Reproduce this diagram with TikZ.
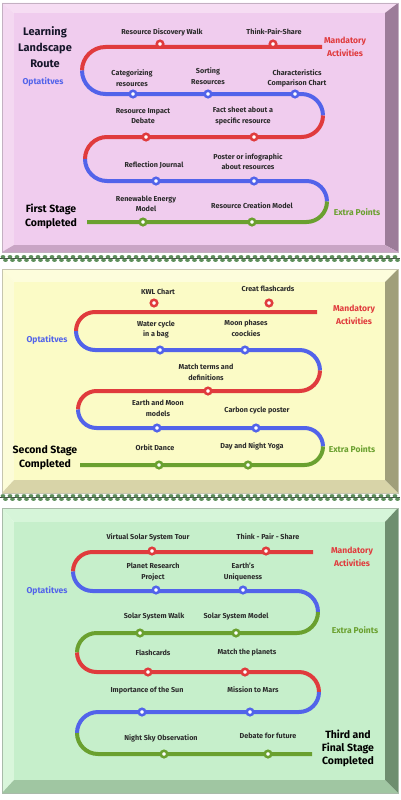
\documentclass[tikz,border=0pt]{standalone}
\usepackage{fontspec}
\setmainfont{Fira Sans}
\usepackage{xcolor}
\usetikzlibrary{positioning}

\definecolor{routered}{HTML}{E03B3D}
\definecolor{routeblue}{HTML}{5263EA}
\definecolor{routegreen}{HTML}{6AA02F}
\definecolor{lbltext}{HTML}{2B2B2B}
\definecolor{ttltext}{HTML}{16162A}
\definecolor{leafgreen}{HTML}{5E8F5C}
\definecolor{vinegray}{HTML}{3F4A3F}
% panel colours: face, top, left, right, bottom
\definecolor{faceA}{HTML}{F0CCEE}
\definecolor{topA}{HTML}{F6DDF3}
\definecolor{leftA}{HTML}{F4D8F1}
\definecolor{rightA}{HTML}{9C7C99}
\definecolor{bottomA}{HTML}{C9A5C5}
\definecolor{faceB}{HTML}{FBFBC6}
\definecolor{topB}{HTML}{FDFDDC}
\definecolor{leftB}{HTML}{FCFCD8}
\definecolor{rightB}{HTML}{A09F7A}
\definecolor{bottomB}{HTML}{D8D4A8}
\definecolor{faceC}{HTML}{C6EFCB}
\definecolor{topC}{HTML}{D6F5D9}
\definecolor{leftC}{HTML}{D9F6DB}
\definecolor{rightC}{HTML}{6E8E6F}
\definecolor{bottomC}{HTML}{A0C6A2}

\begin{document}
\begin{tikzpicture}[x=1pt,y=1pt,
  route/.style={line width=4pt},
  stop/.style={circle,draw=#1,line width=2.5pt,fill=white,minimum size=6.5pt,inner sep=0pt},
  lbl/.style={font=\fontsize{7.2}{10.5}\selectfont\bfseries,text=lbltext,align=center,inner sep=0pt},
  ttl/.style={font=\fontsize{11}{16}\selectfont\bfseries,text=ttltext,align=center,inner sep=0pt},
  done/.style={font=\fontsize{10.5}{14}\selectfont\bfseries,text=black,align=center,inner sep=0pt},
  tag/.style={font=\fontsize{8.5}{13}\selectfont\bfseries,text=#1,align=center,inner sep=0pt}]

\useasboundingbox (0,0) rectangle (400,-800);
\fill[white] (0,0) rectangle (400,-800);

% bevelled panels
\foreach \oy/\iy/\jy/\py/\k in {3/13/245/252/A, 269/282/480/493/B, 508/522/780/793/C}{
  \fill[top\k] (2,-\oy) -- (398,-\oy) -- (385,-\iy) -- (14,-\iy) -- cycle;
  \fill[left\k] (2,-\oy) -- (14,-\iy) -- (14,-\jy) -- (2,-\py) -- cycle;
  \fill[right\k] (398,-\oy) -- (398,-\py) -- (385,-\jy) -- (385,-\iy) -- cycle;
  \fill[bottom\k] (2,-\py) -- (398,-\py) -- (385,-\jy) -- (14,-\jy) -- cycle;
  \fill[face\k] (14,-\iy) rectangle (385,-\jy);
  \draw[right\k!60,line width=0.4pt] (2,-\oy) rectangle (398,-\py);
}

% leaf borders
\foreach \vy in {258.5,497.5}{
  \draw[vinegray,line width=0.5pt] (0,-\vy) -- (400,-\vy);
  \foreach \vx in {3,10,...,397}{
    \fill[leafgreen] (\vx,-\vy+1.7) ellipse[x radius=2.4,y radius=1.7];
    \fill[leafgreen] (\vx+2.5,-\vy-1.7) ellipse[x radius=2.4,y radius=1.7];
  }
}

%%% first stage
\draw[route,routered] (322,-47) -- (105.5,-47) arc[start angle=90,end angle=180,radius=23.5];
\draw[route,routeblue] (82,-70.5) arc[start angle=180,end angle=270,radius=23.5] -- (301.5,-94) arc[start angle=90,end angle=0,radius=21.5];
\draw[route,routered] (323,-115.5) arc[start angle=0,end angle=-90,radius=21.5] -- (107,-137) arc[start angle=90,end angle=180,radius=22];
\draw[route,routeblue] (85,-159) arc[start angle=180,end angle=270,radius=22] -- (306.5,-181) arc[start angle=90,end angle=0,radius=20.5];
\draw[route,routegreen] (327,-201.5) arc[start angle=0,end angle=-90,radius=20.5] -- (87,-222);

\node[stop=routered] (s1a) at (160,-44) {};
\node[stop=routered] (s1b) at (273,-44) {};
\node[stop=routeblue] (s1c) at (133,-94) {};
\node[stop=routeblue] (s1d) at (208,-94) {};
\node[stop=routeblue] (s1e) at (295,-94) {};
\node[stop=routered] (s1f) at (146,-137) {};
\node[stop=routered] (s1g) at (254,-137) {};
\node[stop=routeblue] (s1h) at (156,-181) {};
\node[stop=routeblue] (s1i) at (254,-181) {};
\node[stop=routegreen] (s1j) at (143,-222) {};
\node[stop=routegreen] (s1k) at (252,-222) {};

\node[lbl] (t1a) at (162,-32) {Resource Discovery Walk};
\node[lbl] (t1b) at (274,-32) {Think-Pair-Share};
\node[lbl] (t1c) at (132,-78) {Categorizing\\resources};
\node[lbl] (t1d) at (208,-76) {Sorting\\Resources};
\node[lbl] (t1e) at (297,-78.5) {Characteristics\\Comparison Chart};
\node[lbl] (t1f) at (143,-116) {Resource Impact\\Debate};
\node[lbl] (t1g) at (243,-116) {Fact sheet about a\\specific resource};
\node[lbl] (t1h) at (154,-165) {Reflection Journal};
\node[lbl] (t1i) at (248,-161.5) {Poster or infographic\\about resources};
\node[lbl] (t1j) at (146,-204) {Renewable Energy\\Model};
\node[lbl] (t1k) at (252,-206) {Resource Creation Model};

\node[ttl] (title) at (45,-47) {Learning\\Landscape\\Route};
\node[tag=routeblue] (opt1) at (43,-82) {Optatitves};
\node[tag=routered] (man1) at (345,-46.5) {Mandatory\\Activities};
\node[tag=routegreen] (ext1) at (357,-212) {Extra Points};
\node[done] (end1) at (51,-216) {First Stage\\Completed};

%%% second stage
\draw[route,routered] (317,-312) -- (95,-312) arc[start angle=90,end angle=180,radius=19];
\draw[route,routeblue] (76,-331) arc[start angle=180,end angle=270,radius=19] -- (299.5,-350) arc[start angle=90,end angle=0,radius=20.5];
\draw[route,routered] (320,-370.5) arc[start angle=0,end angle=-90,radius=20.5] -- (96.5,-391) arc[start angle=90,end angle=180,radius=18.5];
\draw[route,routeblue] (78,-409.5) arc[start angle=180,end angle=270,radius=18.5] -- (304.5,-428) arc[start angle=90,end angle=0,radius=18.5];
\draw[route,routegreen] (323,-446.5) arc[start angle=0,end angle=-90,radius=18.5] -- (80,-465);

\node[stop=routered] (s2a) at (154,-303) {};
\node[stop=routered] (s2b) at (269,-303) {};
\node[stop=routeblue] (s2c) at (160,-350) {};
\node[stop=routeblue] (s2d) at (245,-350) {};
\node[stop=routered] (s2e) at (208,-391) {};
\node[stop=routeblue] (s2f) at (157,-428) {};
\node[stop=routeblue] (s2g) at (256,-428) {};
\node[stop=routegreen] (s2h) at (159,-465) {};
\node[stop=routegreen] (s2i) at (248,-465) {};

\node[lbl] (t2a) at (158,-292) {KWL Chart};
\node[lbl] (t2b) at (268,-289) {Creat flashcards};
\node[lbl] (t2c) at (156,-329.5) {Water cycle\\in a bag};
\node[lbl] (t2d) at (246,-328.5) {Moon phases\\coockies};
\node[lbl] (t2e) at (206,-372.5) {Match terms and\\definitions};
\node[lbl] (t2f) at (158,-408.5) {Earth and Moon\\models};
\node[lbl] (t2g) at (257,-411) {Carbon cycle poster};
\node[lbl] (t2h) at (155,-448) {Orbit Dance};
\node[lbl] (t2i) at (252,-446) {Day and Night Yoga};

\node[tag=routered] (man2) at (354,-315) {Mandatory\\Activities};
\node[tag=routeblue] (opt2) at (47,-340) {Optatitves};
\node[tag=routegreen] (ext2) at (352,-449) {Extra Points};
\node[done] (end2) at (45,-458) {Second Stage\\Completed};

%%% third stage
\draw[route,routered] (313,-552) -- (92.5,-552) arc[start angle=90,end angle=180,radius=19.5];
\draw[route,routeblue] (73,-571.5) arc[start angle=180,end angle=270,radius=19.5] -- (297,-591) arc[start angle=90,end angle=0,radius=21];
\draw[route,routegreen] (318,-612) arc[start angle=0,end angle=-90,radius=21] -- (96.5,-633) arc[start angle=90,end angle=180,radius=19.5];
\draw[route,routered] (77,-652.5) arc[start angle=180,end angle=270,radius=19.5] -- (299,-672) arc[start angle=90,end angle=0,radius=20];
\draw[route,routeblue] (319,-692) arc[start angle=0,end angle=-90,radius=20] -- (98,-712) arc[start angle=90,end angle=180,radius=21];
\draw[route,routegreen] (77,-733) arc[start angle=180,end angle=270,radius=21] -- (312,-754);

\node[stop=routered] (s3a) at (152,-551) {};
\node[stop=routered] (s3b) at (266,-551) {};
\node[stop=routeblue] (s3c) at (156,-590) {};
\node[stop=routeblue] (s3d) at (243,-590) {};
\node[stop=routegreen] (s3e) at (140,-633) {};
\node[stop=routegreen] (s3f) at (236,-633) {};
\node[stop=routered] (s3g) at (148,-672) {};
\node[stop=routered] (s3h) at (245,-672) {};
\node[stop=routeblue] (s3i) at (142,-712) {};
\node[stop=routeblue] (s3j) at (250,-712) {};
\node[stop=routegreen] (s3k) at (164,-754) {};
\node[stop=routegreen] (s3l) at (268,-754) {};

\node[lbl] (t3a) at (148,-537) {Virtual Solar System Tour};
\node[lbl] (t3b) at (268,-537) {Think - Pair - Share};
\node[lbl] (t3c) at (153,-572) {Planet Research\\Project};
\node[lbl] (t3d) at (243,-572) {Earth’s\\Uniqueness};
\node[lbl] (t3e) at (154,-617) {Solar System Walk};
\node[lbl] (t3f) at (236,-617) {Solar System Model};
\node[lbl] (t3g) at (153,-653) {Flashcards};
\node[lbl] (t3h) at (247,-653) {Match the planets};
\node[lbl] (t3i) at (147,-691) {Importance of the Sun};
\node[lbl] (t3j) at (253,-690) {Mission to Mars};
\node[lbl] (t3k) at (161,-738) {Night Sky Observation};
\node[lbl] (t3l) at (268,-736) {Debate for future};

\node[tag=routered] (man3) at (352,-556.5) {Mandatory\\Activities};
\node[tag=routeblue] (opt3) at (47,-591) {Optatitves};
\node[tag=routegreen] (ext3) at (355,-630) {Extra Points};
\node[done,font=\fontsize{10.5}{13}\selectfont\bfseries] (end3) at (348,-748) {Third and\\Final Stage\\Completed};

\end{tikzpicture}
\end{document}
